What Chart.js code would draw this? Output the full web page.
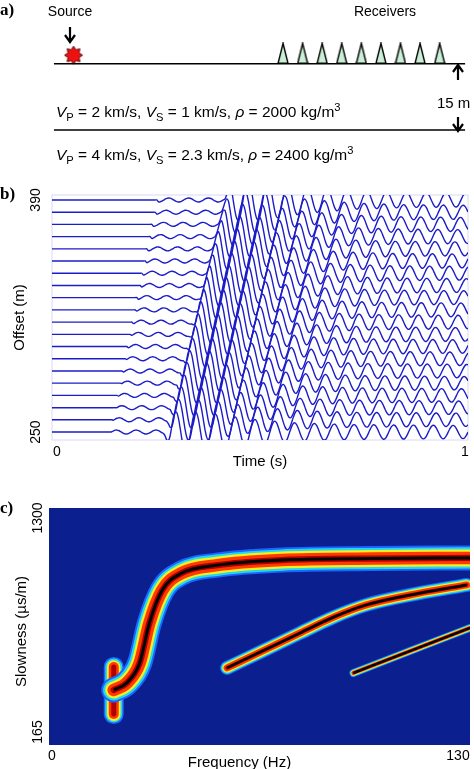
<!DOCTYPE html>
<html>
<head>
<meta charset="utf-8">
<script src="https://cdn.jsdelivr.net/npm/chart.js@4/dist/chart.umd.min.js"></script>
<style>
  body { margin: 0; background: #fff; width: 474px; height: 769px; position: relative; overflow: hidden; }
  .box { position: absolute; left: 0; width: 474px; }
</style>
</head>
<body>
<div class="box" style="top:0;height:190px"><canvas id="modelChart"></canvas></div>
<div class="box" style="top:180px;height:290px"><canvas id="traceChart"></canvas></div>
<div class="box" style="top:470px;height:299px"><canvas id="dispChart"></canvas></div>
<script>
const FONT = "'Liberation Sans', Arial, sans-serif";

// ── Panel a: model geometry (schematic, in panel pixels) ───────────────────
const surfaceY = 62;
const interfaceY = 132;
const lineStartX = 50;
const lineEndX = 470;
const sourceX = 70;
const receiverX = [284, 304, 324, 344, 364, 384, 404, 424, 444];
const layer1Text = ["2", "1", "2000"];
const layer2Text = ["4", "2.3", "2400"];

// ── Panel b: traces ────────────────────────────────────────────────────────
const offsets = [250, 257.4, 264.7, 272.1, 279.5, 286.8, 294.2, 301.6, 308.9, 316.3,
                 323.7, 331.1, 338.4, 345.8, 353.2, 360.5, 367.9, 375.3, 382.6, 390];
const onsetTimes = [0.268, 0.276, 0.283, 0.291, 0.298, 0.306, 0.314, 0.322, 0.329, 0.336,
                    0.344, 0.352, 0.359, 0.367, 0.375, 0.382, 0.390, 0.398, 0.406, 0.414];
const precursorTimes = [0.14, 0.146, 0.152, 0.158, 0.164, 0.17, 0.176, 0.182, 0.188, 0.194,
                        0.2, 0.206, 0.212, 0.218, 0.224, 0.23, 0.236, 0.242, 0.248, 0.255];
const envelopeLag = [0, 0.02, 0.1, 0.2, 0.32, 0.45, 0.7];
const envelopeAmp = [0, 1.25, 1.2, 0.8, 0.55, 0.45, 0.4];
const precursorAmp = 0.12;
const waveFreq = 21;
const phaseSlowness = 0.0009;
const timeTicks = ["0", "1"];
const offsetTicks = [250, 390];

// ── Panel c: dispersion picks ─────────────────────────────────────────────
const mode0Freq = [20, 24, 28, 31, 35, 41, 52, 72, 100, 130];
const mode0Slow = [388, 425, 531, 743, 918, 1008, 1050, 1077, 1085, 1088];
const blobFreq = [20, 20];
const blobSlow = [260, 510];
const mode1Freq = [55, 66, 77.5, 88, 98, 114, 129];
const mode1Slow = [505, 595, 690, 775, 839, 900, 945];
const mode2Freq = [94, 112, 130];
const mode2Slow = [478, 598, 717];
const freqTicks = ["0", "130"];
const slowTicks = ["165", "1300"];

function richText(ctx, x, y, parts, size) {
  ctx.textBaseline = "alphabetic";
  ctx.textAlign = "left";
  parts.forEach((p) => {
    const s = p.sub || p.sup ? size * 0.72 : size;
    ctx.font = `${p.italic ? "italic " : ""}${s}px ${FONT}`;
    const dy = p.sub ? size * 0.25 : p.sup ? -size * 0.4 : 0;
    ctx.fillText(p.t, x, y + dy);
    x += ctx.measureText(p.t).width;
  });
}

function layerParts(v) {
  return [
    { t: "V", italic: true }, { t: "P", sub: true }, { t: ` = ${v[0]} km/s, ` },
    { t: "V", italic: true }, { t: "S", sub: true }, { t: ` = ${v[1]} km/s, ` },
    { t: "ρ", italic: true }, { t: ` = ${v[2]} kg/m` }, { t: "3", sup: true },
  ];
}

function arrow(ctx, x, y0, y1) {
  const dir = y1 > y0 ? 1 : -1;
  ctx.strokeStyle = "#000";
  ctx.lineWidth = 2.2;
  ctx.beginPath();
  ctx.moveTo(x, y0); ctx.lineTo(x, y1);
  ctx.moveTo(x - 5, y1 - dir * 7); ctx.lineTo(x, y1); ctx.lineTo(x + 5, y1 - dir * 7);
  ctx.stroke();
}

function panelLabel(ctx, text, x, y) {
  ctx.font = "bold 17px 'Liberation Serif', serif";
  ctx.fillStyle = "#000";
  ctx.textAlign = "left";
  ctx.textBaseline = "top";
  ctx.fillText(text, x, y);
}

function rotText(ctx, text, x, y, size) {
  ctx.save();
  ctx.translate(x, y);
  ctx.rotate(-Math.PI / 2);
  ctx.font = `${size}px ${FONT}`;
  ctx.fillStyle = "#000";
  ctx.textAlign = "center";
  ctx.textBaseline = "middle";
  ctx.fillText(text, 0, 0);
  ctx.restore();
}

// point style images
const receiverImg = document.createElement("canvas");
receiverImg.width = 12; receiverImg.height = 22;
(() => {
  const c = receiverImg.getContext("2d");
  c.fillStyle = "#c9efd6"; c.strokeStyle = "#000"; c.lineWidth = 1.4;
  c.beginPath(); c.moveTo(6, 1); c.lineTo(11, 21); c.lineTo(1, 21); c.closePath();
  c.fill(); c.stroke();
})();

const starImg = document.createElement("canvas");
starImg.width = 20; starImg.height = 20;
(() => {
  const c = starImg.getContext("2d");
  c.fillStyle = "#ee1111"; c.strokeStyle = "#600"; c.lineWidth = 1;
  c.beginPath();
  for (let k = 0; k < 16; k++) {
    const r = k % 2 ? 6 : 9;
    const a = (k / 16) * Math.PI * 2;
    c.lineTo(10 + r * Math.cos(a), 10 + r * Math.sin(a));
  }
  c.closePath(); c.fill(); c.stroke();
})();

new Chart(document.getElementById("modelChart"), {
  type: "scatter",
  data: {
    datasets: [
      { data: [{ x: lineStartX, y: surfaceY }, { x: lineEndX, y: surfaceY }], showLine: true, borderColor: "#000", borderWidth: 1.5, pointRadius: 0 },
      { data: [{ x: lineStartX, y: interfaceY }, { x: lineEndX, y: interfaceY }], showLine: true, borderColor: "#000", borderWidth: 1.5, pointRadius: 0 },
      { data: receiverX.map((x) => ({ x, y: surfaceY - 11 })), pointStyle: receiverImg },
      { data: [{ x: sourceX, y: surfaceY - 9 }], pointStyle: starImg },
    ],
  },
  options: {
    responsive: true, maintainAspectRatio: false, animation: false,
    layout: { padding: 0 },
    plugins: { legend: { display: false }, tooltip: { enabled: false } },
    scales: {
      x: { type: "linear", min: 0, max: 474, display: false },
      y: { type: "linear", min: 0, max: 190, reverse: true, display: false },
    },
  },
  plugins: [{
    id: "modelText",
    afterDraw(chart) {
      const ctx = chart.ctx;
      ctx.save();
      panelLabel(ctx, "a)", 0, 2);
      ctx.fillStyle = "#000";
      ctx.font = `14px ${FONT}`;
      ctx.textAlign = "center"; ctx.textBaseline = "middle";
      ctx.fillText("Source", sourceX, 12);
      ctx.fillText("Receivers", 385, 12);
      arrow(ctx, sourceX, 27, 42);
      arrow(ctx, 458, 80, 65);
      arrow(ctx, 458, 117, 131);
      ctx.textAlign = "left";
      ctx.font = `15px ${FONT}`;
      ctx.fillText("15 m", 437, 104);
      richText(ctx, 56, 117, layerParts(layer1Text), 15.5);
      richText(ctx, 56, 160, layerParts(layer2Text), 15.5);
      ctx.restore();
    },
  }],
});

// ── Panel b ────────────────────────────────────────────────────────────────
function envelope(lag) {
  for (let k = 1; k < envelopeLag.length; k++) {
    if (lag <= envelopeLag[k]) {
      const f = (lag - envelopeLag[k - 1]) / (envelopeLag[k] - envelopeLag[k - 1]);
      return envelopeAmp[k - 1] + f * (envelopeAmp[k] - envelopeAmp[k - 1]);
    }
  }
  return envelopeAmp[envelopeAmp.length - 1];
}

const TRACE_GAIN = 10; // metres of offset per unit amplitude
const traceSets = offsets.map((off, i) => {
  const pts = [];
  for (let n = 0; n <= 250; n++) {
    const t = n / 250;
    let a = 0;
    if (t > precursorTimes[i] && t < onsetTimes[i]) a = precursorAmp;
    else if (t >= onsetTimes[i]) a = Math.max(precursorAmp, envelope(t - onsetTimes[i]));
    const phase = 2 * Math.PI * waveFreq * (t - phaseSlowness * (off - 250));
    pts.push({ x: t, y: off + TRACE_GAIN * a * Math.sin(phase) });
  }
  return { data: pts, showLine: true, borderColor: "#1c1cc8", borderWidth: 1.4, pointRadius: 0, tension: 0.3 };
});

new Chart(document.getElementById("traceChart"), {
  type: "scatter",
  data: { datasets: traceSets },
  options: {
    responsive: true, maintainAspectRatio: false, animation: false,
    layout: { padding: { left: 52, right: 6, top: 15, bottom: 30 } },
    plugins: { legend: { display: false }, tooltip: { enabled: false } },
    scales: {
      x: { type: "linear", min: 0, max: 1, display: false },
      y: { type: "linear", min: 245.2, max: 393, display: false },
    },
  },
  plugins: [{
    id: "traceText",
    beforeDatasetsDraw(chart) {
      const { ctx, chartArea: a } = chart;
      ctx.save();
      ctx.strokeStyle = "#d8d8f4"; ctx.lineWidth = 1;
      ctx.strokeRect(a.left, a.top, a.right - a.left, a.bottom - a.top);
      ctx.restore();
    },
    afterDraw(chart) {
      const { ctx, chartArea: a, scales } = chart;
      ctx.save();
      panelLabel(ctx, "b)", 0, 6);
      offsetTicks.forEach((v) => rotText(ctx, String(v), 36, scales.y.getPixelForValue(v), 14));
      rotText(ctx, "Offset (m)", 20, (a.top + a.bottom) / 2, 15);
      ctx.font = `14px ${FONT}`; ctx.fillStyle = "#000"; ctx.textBaseline = "middle";
      ctx.textAlign = "center";
      ctx.fillText(timeTicks[0], a.left + 5, a.bottom + 12);
      ctx.fillText(timeTicks[1], a.right - 3, a.bottom + 12);
      ctx.font = `15px ${FONT}`;
      ctx.fillText("Time (s)", (a.left + a.right) / 2, a.bottom + 22);
      ctx.restore();
    },
  }],
});

// ── Panel c ────────────────────────────────────────────────────────────────
// outermost first; Chart.js draws the first dataset on top, so `order` is set explicitly
const glowLayers = [
  { c: "#1e63ff", w: 1.0 },
  { c: "#22d8f0", w: 0.85 },
  { c: "#f4f020", w: 0.68 },
  { c: "#ff3a00", w: 0.5 },
  { c: "#b00000", w: 0.25 },
];

let drawOrder = 1000;
function glowSets(freq, slow, width, core) {
  const sets = glowLayers.map((g) => ({
    data: freq.map((f, i) => ({ x: f, y: slow[i] })), showLine: true, borderColor: g.c,
    borderWidth: width * g.w, pointRadius: 0, cubicInterpolationMode: "monotone",
    borderCapStyle: "round", order: drawOrder--,
  }));
  if (core) sets.push({
    data: freq.map((f, i) => ({ x: f, y: slow[i] })), showLine: true, borderColor: "#000",
    borderWidth: core, pointRadius: 0, cubicInterpolationMode: "monotone", order: drawOrder--,
  });
  return sets;
}

new Chart(document.getElementById("dispChart"), {
  type: "scatter",
  data: {
    datasets: [
      ...glowSets(blobFreq, blobSlow, 20, 0),
      ...glowSets(mode0Freq, mode0Slow, 25, 3),
      ...glowSets(mode1Freq, mode1Slow, 14, 2.5),
      ...glowSets(mode2Freq, mode2Slow, 8, 2.5),
    ],
  },
  options: {
    responsive: true, maintainAspectRatio: false, animation: false,
    layout: { padding: { left: 49, right: 4, top: 38, bottom: 24 } },
    plugins: { legend: { display: false }, tooltip: { enabled: false } },
    scales: {
      x: { type: "linear", min: 0, max: 130, display: false },
      y: { type: "linear", min: 96, max: 1353, display: false },
    },
  },
  plugins: [{
    id: "dispText",
    beforeDatasetsDraw(chart) {
      const { ctx, chartArea: a } = chart;
      ctx.save();
      ctx.fillStyle = "#0b1f8f";
      ctx.fillRect(a.left, a.top, a.right - a.left, a.bottom - a.top);
      ctx.restore();
    },
    afterDraw(chart) {
      const { ctx, chartArea: a, scales } = chart;
      ctx.save();
      panelLabel(ctx, "c)", 0, 30);
      slowTicks.forEach((v) => rotText(ctx, v, 38, scales.y.getPixelForValue(Number(v)), 14));
      rotText(ctx, "Slowness (µs/m)", 22, (a.top + a.bottom) / 2 + 5, 15);
      ctx.font = `14px ${FONT}`; ctx.fillStyle = "#000"; ctx.textBaseline = "middle";
      ctx.textAlign = "center";
      ctx.fillText(freqTicks[0], a.left + 3, a.bottom + 11);
      ctx.fillText(freqTicks[1], a.right - 12, a.bottom + 11);
      ctx.font = `15px ${FONT}`;
      ctx.fillText("Frequency (Hz)", (a.left + a.right) / 2 - 20, a.bottom + 18);
      ctx.restore();
    },
  }],
});
</script>
</body>
</html>
